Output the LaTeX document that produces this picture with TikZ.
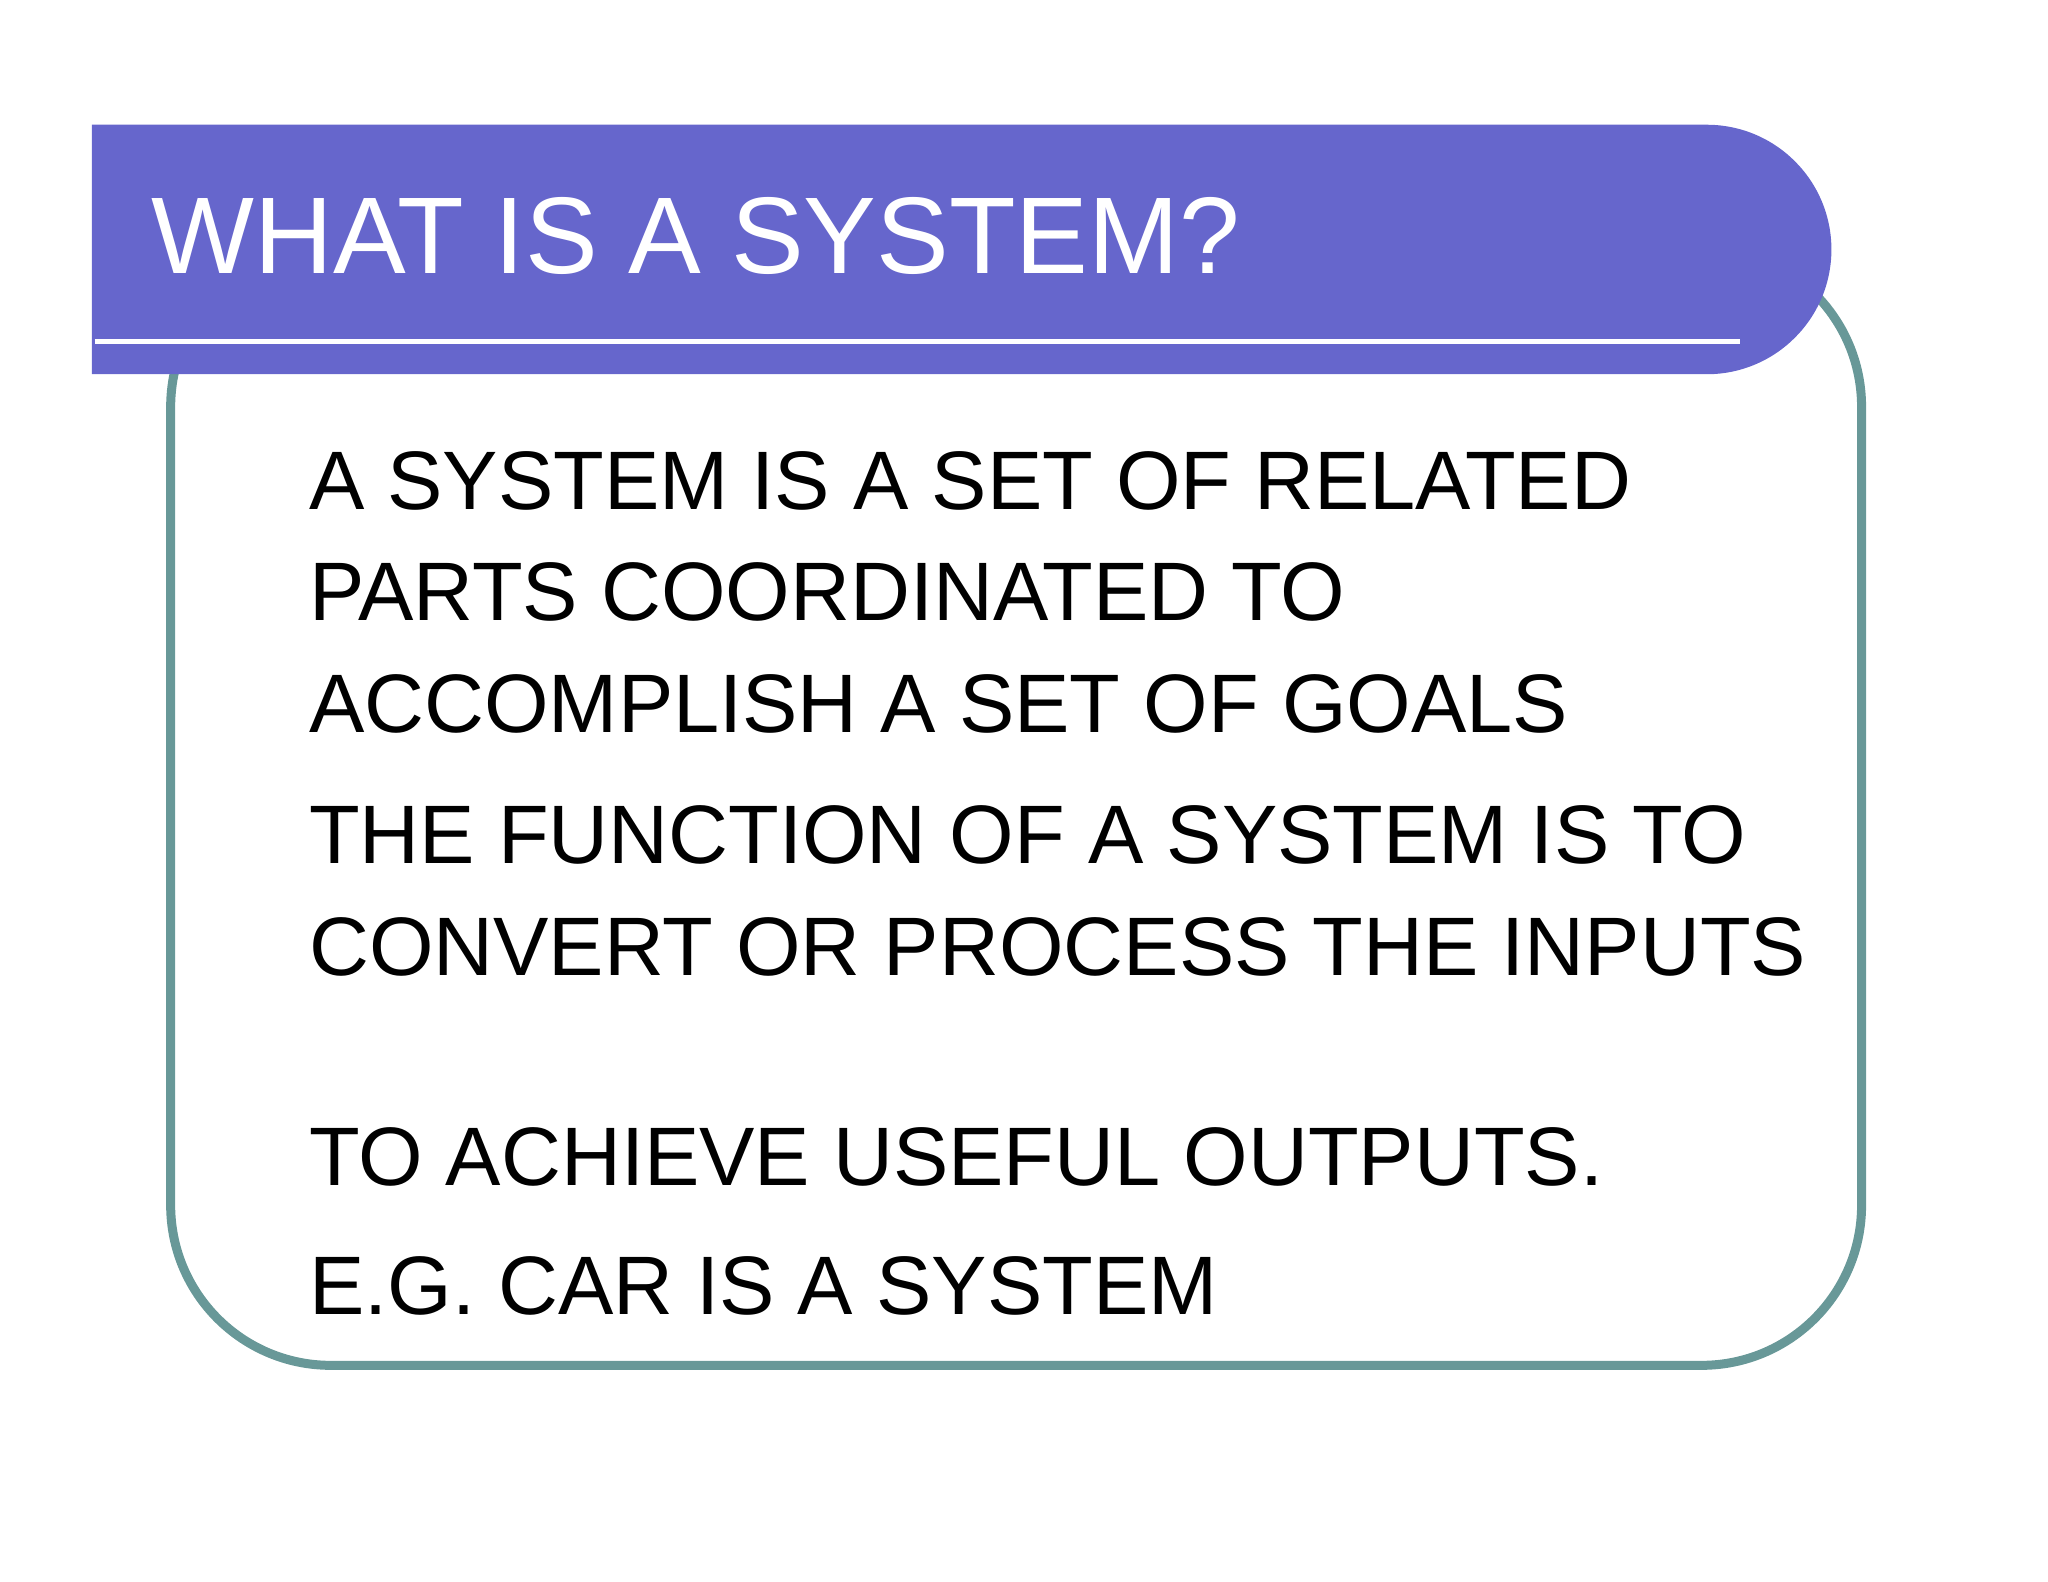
\documentclass[tikz,border=0pt]{standalone}
\usepackage{fontspec}
\setmainfont{Liberation Sans}
\definecolor{framecol}{RGB}{104,152,152}
\definecolor{headcol}{RGB}{102,102,204}
\tikzset{
  bodytext/.style={anchor=base west, inner sep=0pt, font=\fontsize{23.6}{28}\selectfont, text=black},
  titletext/.style={anchor=base west, inner sep=0pt, font=\fontsize{31}{36}\selectfont, text=white}
}
\begin{document}
\begin{tikzpicture}[x=0.01313cm, y=-0.01313cm]
\useasboundingbox (0,0) rectangle (1560,1205);

% Frame
\draw[framecol, line width=0.09cm, rounded corners=1.6cm] (130,188) rectangle (1418,1040);

% Header band
\fill[headcol] (70,95) -- (1300,95) arc[start angle=90, end angle=-90, radius=1.247cm] -- (70,285) -- cycle;
\draw[white, line width=0.055cm] (72,260) -- (1325,260);
\node[titletext] (title) at (115,208) {WHAT IS A SYSTEM?};

% Body lines
\node[bodytext] (l1) at (235,388) {A SYSTEM IS A SET OF RELATED};
\node[bodytext] (l2) at (235,473) {PARTS COORDINATED TO};
\node[bodytext] (l3) at (235,558) {ACCOMPLISH A SET OF GOALS};
\node[bodytext] (l4) at (235,658) {THE FUNCTION OF A SYSTEM IS TO};
\node[bodytext] (l5) at (235,743) {CONVERT OR PROCESS THE INPUTS};
\node[bodytext] (l6) at (235,903) {TO ACHIEVE USEFUL OUTPUTS.};
\node[bodytext] (l7) at (235,1001) {E.G. CAR IS A SYSTEM};
\end{tikzpicture}
\end{document}
